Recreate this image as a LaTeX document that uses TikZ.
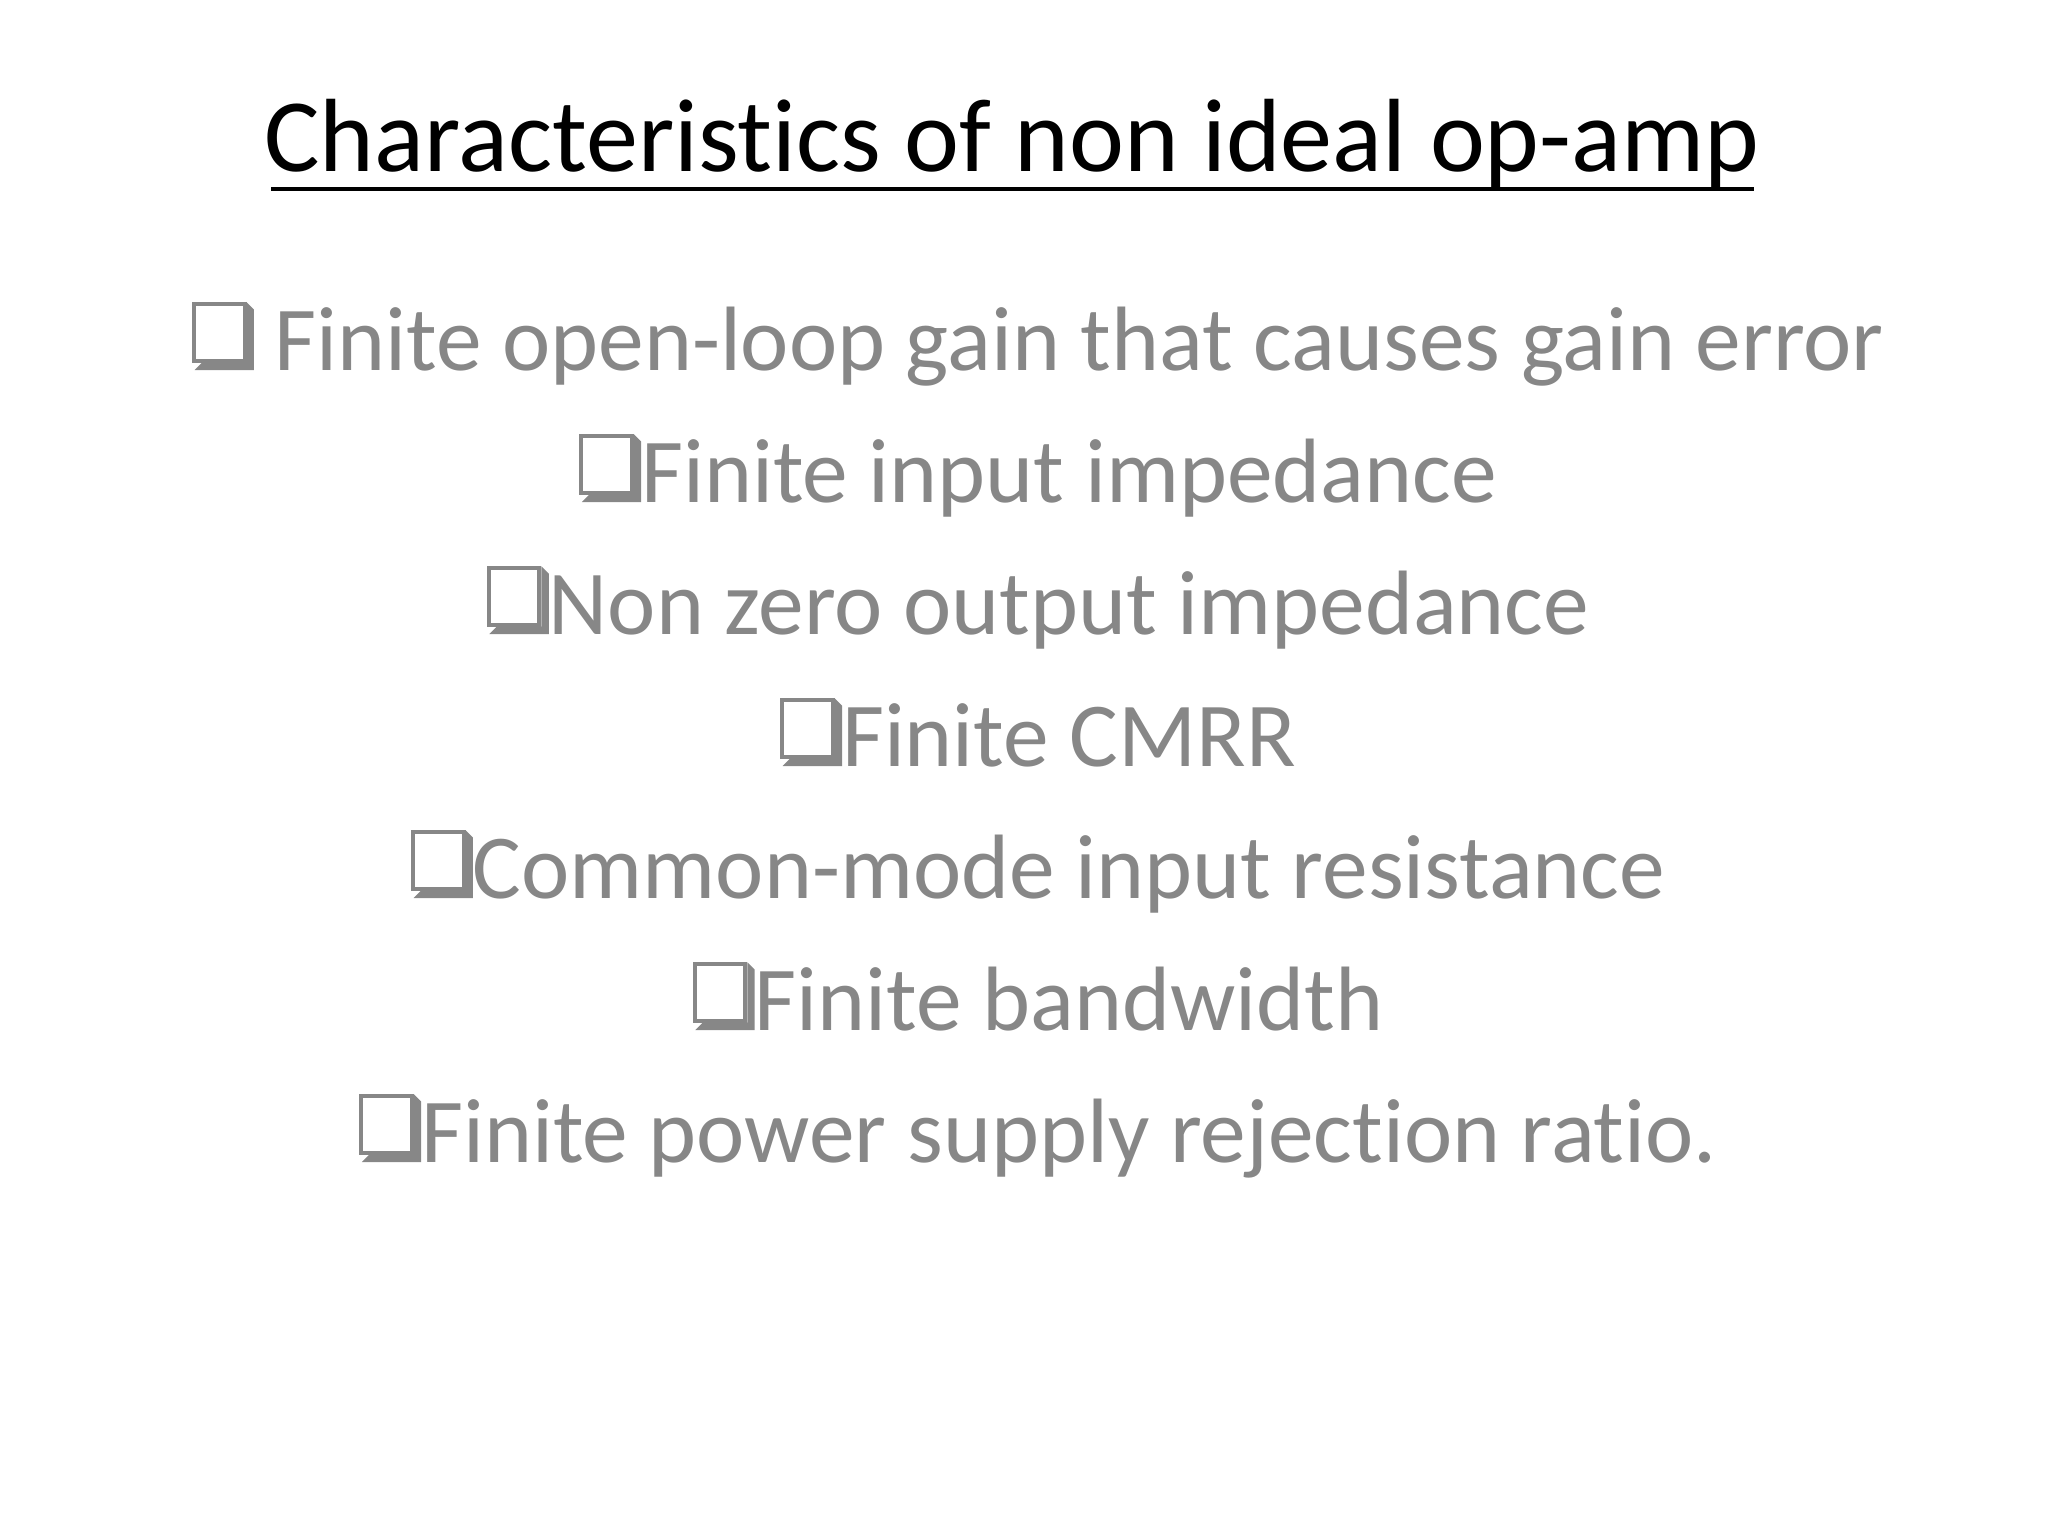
\documentclass[tikz,border=0pt]{standalone}
\usepackage{fontspec}
\setmainfont{Carlito}[Ligatures=NoCommon]
\definecolor{txtgray}{HTML}{878787}
\newcommand{\qbul}{\tikz[baseline=0pt,x=1em,y=1em]{%
 \fill[txtgray] (0.03,0) -- (0.68,0) -- (0.68,0.66) -- (0.60,0.74) -- (0.60,0.08) -- (0.11,0.08) -- cycle;
 \fill[txtgray] (0,0.08) rectangle (0.60,0.74);
 \fill[white] (0.045,0.125) rectangle (0.555,0.695);}}
\tikzset{item/.style={anchor=base,text=txtgray,font=\fontsize{26}{30}\selectfont,inner sep=0pt}}
\begin{document}
\begin{tikzpicture}[x=0.01cm,y=-0.01cm]
\useasboundingbox (0,0) rectangle (2048,1536);
\node[anchor=base,inner sep=0pt,font=\fontsize{29.6}{34}\selectfont] (title) at (1012,171) {Characteristics of non ideal op-amp};
\draw[line width=1.2pt] (271,189) -- (1754,189);
\node[item] (l1) at (1038,370) {\qbul\ Finite open-loop gain that causes gain error};
\node[item] (l2) at (1038,502) {\qbul Finite input impedance};
\node[item] (l3) at (1038,634) {\qbul Non zero output impedance};
\node[item] (l4) at (1038,766) {\qbul Finite CMRR};
\node[item] (l5) at (1038,898) {\qbul Common-mode input resistance};
\node[item] (l6) at (1038,1030) {\qbul Finite bandwidth};
\node[item] (l7) at (1038,1162) {\qbul Finite power supply rejection ratio.};
\end{tikzpicture}
\end{document}
